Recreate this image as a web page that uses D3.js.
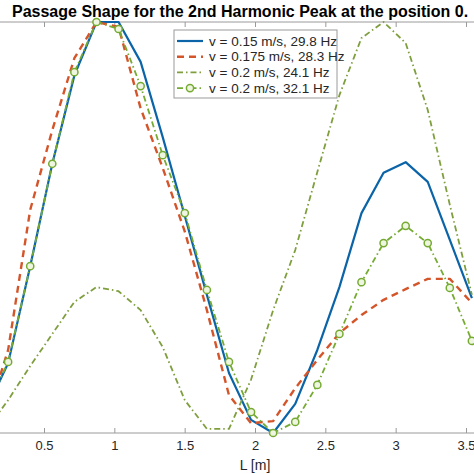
<!DOCTYPE html>
<html>
<head>
<meta charset="utf-8">
<script src="https://cdn.jsdelivr.net/npm/d3@7"></script>
<style>
  html, body { margin: 0; padding: 0; background: #fff; }
  svg { display: block; font-family: "Liberation Sans", Arial, sans-serif; }
</style>
</head>
<body>
<svg id="chart" width="474" height="474"></svg>
<script>
// ---- data ----
// positions along the passage [m]
const positions = [0.088, 0.245, 0.402, 0.559, 0.716, 0.873, 1.030, 1.187,
  1.344, 1.501, 1.658, 1.815, 1.972, 2.129, 2.286, 2.443, 2.600, 2.757,
  2.914, 3.071, 3.228, 3.385, 3.542];

// normalised passage shape for each case
const shape015 = [0.056, 0.170, 0.406, 0.655, 0.870, 1.000, 1.000, 0.903,
  0.720, 0.528, 0.336, 0.146, 0.032, 0.000, 0.071, 0.202, 0.355, 0.535,
  0.633, 0.659, 0.611, 0.470, 0.328];
const shape0175 = [0.030, 0.202, 0.543, 0.737, 0.912, 1.000, 0.988, 0.790,
  0.645, 0.490, 0.299, 0.092, 0.024, 0.029, 0.109, 0.178, 0.243, 0.287,
  0.324, 0.350, 0.375, 0.375, 0.316];
const shape02a = [0.007, 0.080, 0.163, 0.241, 0.319, 0.355, 0.345, 0.299,
  0.209, 0.080, 0.010, 0.010, 0.130, 0.299, 0.445, 0.635, 0.822, 0.961,
  1.000, 0.949, 0.786, 0.555, 0.336];
const shape02b = [0.056, 0.173, 0.406, 0.655, 0.878, 1.000, 0.983, 0.844,
  0.676, 0.535, 0.348, 0.173, 0.051, 0.000, 0.027, 0.117, 0.241, 0.367,
  0.462, 0.504, 0.462, 0.353, 0.224];

const seriesNames = [
  "v = 0.15 m/s, 29.8 Hz",
  "v = 0.175 m/s, 28.3 Hz",
  "v = 0.2 m/s, 24.1 Hz",
  "v = 0.2 m/s, 32.1 Hz"
];

const xTicks = [0.5, 1, 1.5, 2, 2.5, 3, 3.5];

const titleText = "Passage Shape for the 2nd Harmonic Peak at the position 0.";

// ---- styles ----
const styles = [
  { color: "#0b64a8", width: 2.2, dash: null, marker: false },
  { color: "#d4552a", width: 2.4, dash: "7,5", marker: false },
  { color: "#7f9f3e", width: 1.8, dash: "6,3,1.5,3", marker: false },
  { color: "#76ab33", width: 1.8, dash: "6,3,1.5,3", marker: true }
];

const series = [shape015, shape0175, shape02a, shape02b].map((vals, i) => ({
  name: seriesNames[i],
  style: styles[i],
  points: positions.map((p, j) => ({ x: p, y: vals[j] }))
}));

// ---- layout ----
const W = 474, H = 474;
const svg = d3.select("#chart");

// the figure is cropped: the plot box runs past both edges
const x = d3.scaleLinear().domain([0.5, 3.5]).range([44, 466]);
const y = d3.scaleLinear().domain([0, 1]).range([433, 22]);

// title
svg.append("text")
  .attr("x", 12)
  .attr("y", 17)
  .attr("font-size", 16)
  .attr("font-weight", "bold")
  .attr("fill", "#000")
  .text(titleText);

// axes (ticks pointing inward)
const axisColor = "#9a9a9a";

const bottomAxis = svg.append("g")
  .attr("transform", `translate(0,${y(0)})`)
  .call(d3.axisBottom(x)
    .tickValues(xTicks)
    .tickSize(-5)
    .tickPadding(8)
    .tickFormat(d => String(d)));

const topAxis = svg.append("g")
  .attr("transform", `translate(0,${y(1)})`)
  .call(d3.axisTop(x)
    .tickValues(xTicks)
    .tickSize(-5)
    .tickFormat(""));

[bottomAxis, topAxis].forEach(g => {
  g.select(".domain").remove();
  g.selectAll(".tick line").attr("stroke", axisColor);
  g.append("line")
    .attr("x1", 0).attr("x2", W)
    .attr("stroke", axisColor)
    .attr("stroke-width", 1);
});

bottomAxis.selectAll(".tick text")
  .attr("font-size", 13)
  .attr("fill", "#262626")
  .attr("font-family", "Liberation Sans, Arial, sans-serif");

svg.append("text")
  .attr("x", x(2))
  .attr("y", 470)
  .attr("text-anchor", "middle")
  .attr("font-size", 14)
  .attr("fill", "#262626")
  .text("L [m]");

// lines
const line = d3.line().x(d => x(d.x)).y(d => y(d.y));

series.forEach(s => {
  svg.append("path")
    .datum(s.points)
    .attr("fill", "none")
    .attr("stroke", s.style.color)
    .attr("stroke-width", s.style.width)
    .attr("stroke-dasharray", s.style.dash)
    .attr("stroke-linejoin", "round")
    .attr("d", line);

  if (s.style.marker) {
    svg.append("g")
      .selectAll("circle")
      .data(s.points)
      .join("circle")
      .attr("cx", d => x(d.x))
      .attr("cy", d => y(d.y))
      .attr("r", 3.6)
      .attr("fill", "#eef5e0")
      .attr("stroke", s.style.color)
      .attr("stroke-width", 1.5);
  }
});

// legend
const legend = svg.append("g").attr("transform", "translate(174,30)");

legend.append("rect")
  .attr("width", 163)
  .attr("height", 68)
  .attr("fill", "#fff")
  .attr("stroke", "#9a9a9a")
  .attr("stroke-width", 1);

series.forEach((s, i) => {
  const ly = 11 + i * 15.7;
  legend.append("line")
    .attr("x1", 3).attr("x2", 29)
    .attr("y1", ly).attr("y2", ly)
    .attr("stroke", s.style.color)
    .attr("stroke-width", s.style.width)
    .attr("stroke-dasharray", s.style.dash);
  if (s.style.marker) {
    legend.append("circle")
      .attr("cx", 16).attr("cy", ly).attr("r", 3.6)
      .attr("fill", "#eef5e0")
      .attr("stroke", s.style.color)
      .attr("stroke-width", 1.5);
  }
  legend.append("text")
    .attr("x", 35)
    .attr("y", ly)
    .attr("dy", "0.35em")
    .attr("font-size", 13.5)
    .attr("fill", "#262626")
    .text(s.name);
});
</script>
</body>
</html>
